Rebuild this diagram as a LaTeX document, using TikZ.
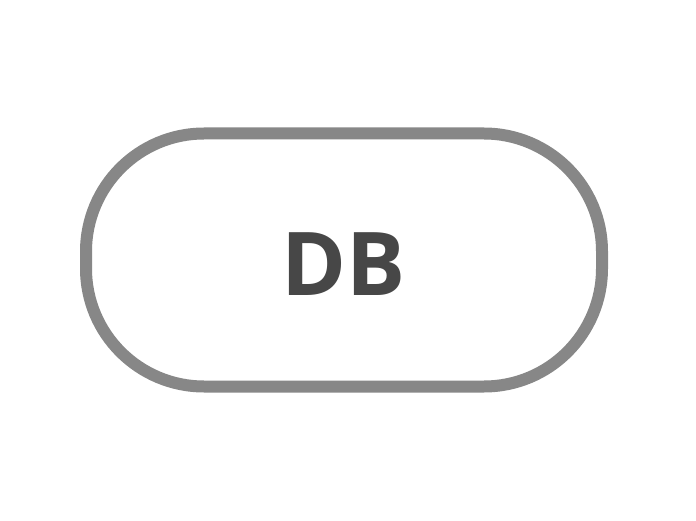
\documentclass[tikz,border=0pt]{standalone}
\usepackage{fontspec}
\setmainfont{Open Sans}
\definecolor{boxgray}{HTML}{878787}
\definecolor{textgray}{HTML}{474747}
\tikzset{
  dbbox/.style={draw=boxgray, line width=12pt, fill=white, rounded corners=118pt},
  dblabel/.style={text=textgray, font=\fontsize{88}{100}\selectfont\bfseries, anchor=base, inner sep=0pt}
}
\begin{document}
\begin{tikzpicture}[x=1pt,y=1pt]
\useasboundingbox (0,0) rectangle (696,520);
\draw[dbbox] (86,386.5) rectangle (602,133.5);
\coordinate (c) at (344,259.5);
\node[dblabel] (db) at (344,224) {DB};
\end{tikzpicture}
\end{document}
